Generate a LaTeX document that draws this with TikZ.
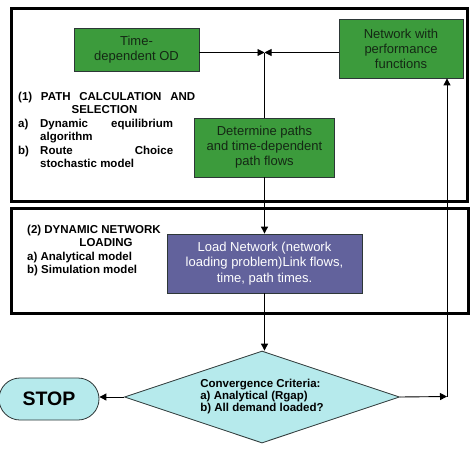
\documentclass[tikz,border=0pt]{standalone}
\usepackage{fontspec}
\setmainfont{Liberation Sans}
\usetikzlibrary{arrows.meta,shapes.geometric,shapes.misc}
\definecolor{boxgreen}{RGB}{60,155,60}
\definecolor{boxpurple}{RGB}{98,98,156}
\definecolor{boxcyan}{RGB}{182,234,236}
\definecolor{edgegray}{RGB}{45,55,55}
\definecolor{darktext}{RGB}{20,40,20}
\tikzset{
  x=1pt, y=-1pt,
  frame/.style={draw=black, line width=3pt},
  greenbox/.style={draw=edgegray, line width=0.8pt, fill=boxgreen, text=darktext, align=center,
    inner sep=0pt, font=\fontsize{13}{15}\selectfont},
  purplebox/.style={draw=edgegray, line width=0.8pt, fill=boxpurple, text=white, align=center,
    inner sep=0pt, font=\fontsize{13}{15.5}\selectfont},
  decision/.style={shape=diamond, draw=edgegray, line width=0.8pt, fill=boxcyan, aspect=2.99,
    inner sep=0pt, align=left, font=\bfseries\fontsize{11.5}{12}\selectfont},
  stopbox/.style={shape=rounded rectangle, draw=edgegray, line width=0.8pt, fill=boxcyan,
    inner sep=0pt, font=\bfseries\fontsize{19.5}{22}\selectfont},
  label/.style={inner sep=0pt, font=\bfseries\fontsize{11.5}{13.5}\selectfont},
  conn/.style={draw=black, line width=0.9pt, -{Triangle[length=7pt,width=7pt]}},
  plain/.style={draw=black, line width=0.9pt}
}
\begin{document}
\begin{tikzpicture}
\useasboundingbox (0,0) rectangle (474,458);
\fill[white] (0,0) rectangle (474,458);

% frames
\draw[frame] (11,8) rectangle (467,201);
\draw[frame] (11,208) rectangle (468,313);

% boxes
\node[greenbox, minimum width=125pt, minimum height=43pt] (od) at (136.5,49.5) {Time-\\dependent OD};
\node[greenbox, minimum width=124pt, minimum height=59pt] (net) at (401,48.5) {Network with\\performance\\functions};
\node[greenbox, minimum width=140pt, minimum height=59pt] (det) at (264.5,147.5) {Determine paths\\and time-dependent\\path flows};
\node[purplebox, minimum width=195pt, minimum height=59pt] (load) at (264.5,263.5) {Load Network (network\\loading problem)Link flows,\\time, path times.};
\node[decision, minimum width=275pt, minimum height=92pt] (conv) at (262,397) {Convergence Criteria:\\a) Analytical (Rgap)\\b) All demand loaded?};
\node[stopbox, minimum width=100pt, minimum height=42pt] (stop) at (49,399) {STOP};

% section labels
\node[label, anchor=base west] (s1a) at (18,100.5) {\makebox[177pt][s]{(1) PATH CALCULATION AND}};
\node[label, anchor=base] (s1b) at (104.5,113.8) {SELECTION};
\node[label, anchor=base west] (s1c) at (18,127.3) {\makebox[22pt][l]{a)}\makebox[133pt][s]{Dynamic equilibrium}};
\node[label, anchor=base west] (s1d) at (40,140.8) {algorithm};
\node[label, anchor=base west] (s1e) at (18,154.3) {\makebox[22pt][l]{b)}\makebox[133pt][s]{Route Choice}};
\node[label, anchor=base west] (s1f) at (40,167.8) {stochastic model};

\node[label, anchor=base west] (s2a) at (27,233) {(2) DYNAMIC NETWORK};
\node[label, anchor=base] (s2b) at (106,246.5) {LOADING};
\node[label, anchor=base west] (s2c) at (27,260) {a) Analytical model};
\node[label, anchor=base west] (s2d) at (27,273.5) {b) Simulation model};

% connectors
\coordinate (j) at (264.5,52.5);
\coordinate (r) at (447,396.5);
\draw[conn] (j -| od.east) -- (j);
\draw[conn] (j -| net.west) -- (j);
\draw[plain] (det.north) -- (j);
\draw[conn] (det.south) -- (load.north);
\draw[conn] (load.south) -- (load.south |- conv.north);
\draw[conn] (conv.west) -- (conv.west -| stop.east);
\draw[conn] (conv.east) -- (r);
\draw[conn] (r) -- (r |- net.south);
\end{tikzpicture}
\end{document}
